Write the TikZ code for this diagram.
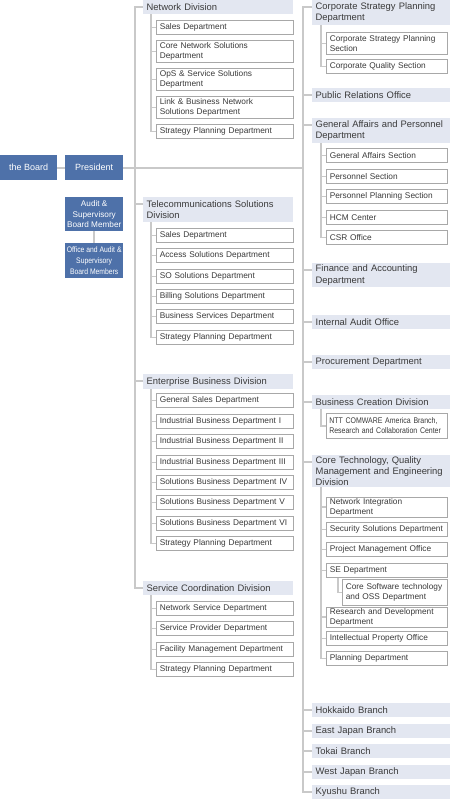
\documentclass[tikz,border=0pt]{standalone}
\usepackage{fontspec}
\setmainfont{Liberation Sans}
\newfontfamily\narrowfont[FakeStretch=0.85]{Liberation Sans}
\hyphenpenalty=10000
\exhyphenpenalty=10000
\definecolor{boardblue}{HTML}{4E71A9}
\definecolor{headfill}{HTML}{E3E7F1}
\definecolor{linegray}{HTML}{C9C9C9}
\definecolor{deptline}{HTML}{A8A8A8}
\definecolor{textgray}{HTML}{3A3A3A}
\tikzset{
  link/.style={draw=linegray, line width=2pt},
  sublink/.style={draw=linegray, line width=1.5pt},
  boss/.style={fill=boardblue, text=white, anchor=north west, inner sep=1pt,
    align=center, font=\fontsize{9}{11}\selectfont},
  head/.style={fill=headfill, text=textgray, anchor=north west, inner xsep=3.5pt,
    inner ysep=1pt, align=left, font=\fontsize{9.4}{11.3}\selectfont},
  dept/.style={draw=deptline, line width=0.6pt, fill=white, text=textgray,
    anchor=north west, inner xsep=3.5pt, inner ysep=1pt, align=left,
    minimum height=14pt, font=\fontsize{8.3}{10}\selectfont},
  lhead/.style={text width=143pt},
  ldept/.style={text width=130pt},
  rhead/.style={text width=131pt},
  rdept/.style={text width=114pt}
}

\begin{document}
\begin{tikzpicture}[x=1pt,y=-1pt]
  \useasboundingbox (0,0) rectangle (450,800);

  % top of the company
  \node[boss,minimum width=57pt,minimum height=25pt] (board) at (0,155) {the Board};
  \node[boss,minimum width=58pt,minimum height=25pt] (pres) at (65,155) {President};
  \node[boss,minimum width=58pt,minimum height=34pt,font=\fontsize{8.2}{10.5}\selectfont] (aud) at (65,197) {Audit \&\\Supervisory\\Board Member};
  \node[boss,minimum width=58pt,minimum height=35pt,font=\narrowfont\fontsize{8}{10.7}\selectfont] (off) at (65,243) {Office and Audit \&\\Supervisory\\Board Members};
  \coordinate (rtrunk) at (303,0);

  % left column
  \node[head,lhead,minimum height=14pt] (nd) at (143,0) {Network Division};
  \node[dept,ldept] (nd1) at (156,20) {Sales Department};
  \node[dept,ldept,minimum height=22pt] (nd2) at (156,40) {Core Network Solutions\\Department};
  \node[dept,ldept,minimum height=22pt] (nd3) at (156,68) {OpS \& Service Solutions\\Department};
  \node[dept,ldept,minimum height=22pt] (nd4) at (156,96) {Link \& Business Network\\Solutions Department};
  \node[dept,ldept] (nd5) at (156,124) {Strategy Planning Department};

  \node[head,lhead,minimum height=25pt] (tsd) at (143,197) {Telecommunications Solutions\\Division};
  \node[dept,ldept] (ts1) at (156,228) {Sales Department};
  \node[dept,ldept] (ts2) at (156,248) {Access Solutions Department};
  \node[dept,ldept] (ts3) at (156,269) {SO Solutions Department};
  \node[dept,ldept] (ts4) at (156,289) {Billing Solutions Department};
  \node[dept,ldept] (ts5) at (156,309) {Business Services Department};
  \node[dept,ldept] (ts6) at (156,330) {Strategy Planning Department};

  \node[head,lhead,minimum height=15pt] (ebd) at (143,374) {Enterprise Business Division};
  \node[dept,ldept] (eb1) at (156,393) {General Sales Department};
  \node[dept,ldept] (eb2) at (156,414) {Industrial Business Department I};
  \node[dept,ldept] (eb3) at (156,434) {Industrial Business Department II};
  \node[dept,ldept] (eb4) at (156,455) {Industrial Business Department III};
  \node[dept,ldept] (eb5) at (156,475) {Solutions Business Department IV};
  \node[dept,ldept] (eb6) at (156,495) {Solutions Business Department V};
  \node[dept,ldept] (eb7) at (156,516) {Solutions Business Department VI};
  \node[dept,ldept] (eb8) at (156,536) {Strategy Planning Department};

  \node[head,lhead,minimum height=14pt] (scd) at (143,581) {Service Coordination Division};
  \node[dept,ldept] (sc1) at (156,601) {Network Service Department};
  \node[dept,ldept] (sc2) at (156,621) {Service Provider Department};
  \node[dept,ldept] (sc3) at (156,642) {Facility Management Department};
  \node[dept,ldept] (sc4) at (156,662) {Strategy Planning Department};

  % right column
  \node[head,rhead,minimum height=25pt] (csp) at (312,0) {Corporate Strategy Planning\\Department};
  \node[dept,rdept,minimum height=22pt] (cs1) at (326,32) {Corporate Strategy Planning\\Section};
  \node[dept,rdept] (cs2) at (326,59) {Corporate Quality Section};
  \node[head,rhead,minimum height=14pt] (pro) at (312,88) {Public Relations Office};
  \node[head,rhead,minimum height=25pt] (gap) at (312,118) {General Affairs and Personnel\\Department};
  \node[dept,rdept] (ga1) at (326,148) {General Affairs Section};
  \node[dept,rdept] (ga2) at (326,169) {Personnel Section};
  \node[dept,rdept] (ga3) at (326,189) {Personnel Planning Section};
  \node[dept,rdept] (ga4) at (326,210) {HCM Center};
  \node[dept,rdept] (ga5) at (326,230) {CSR Office};
  \node[head,rhead,minimum height=24pt] (fad) at (312,263) {Finance and Accounting\\Department};
  \node[head,rhead,minimum height=14pt] (iao) at (312,315) {Internal Audit Office};
  \node[head,rhead,minimum height=14pt] (prd) at (312,355) {Procurement Department};
  \node[head,rhead,minimum height=14pt] (bcd) at (312,395) {Business Creation Division};
  \node[dept,rdept,minimum height=25pt,inner xsep=3pt,text width=115pt,font=\narrowfont\fontsize{8.2}{10}\selectfont] (bc1) at (326,413) {NTT COMWARE America Branch,\\Research and Collaboration Center};
  \node[head,rhead,minimum height=32pt] (ctq) at (312,455) {Core Technology, Quality\\Management and Engineering\\Division};
  \node[dept,rdept,minimum height=19pt] (ct1) at (326,497) {Network Integration\\Department};
  \node[dept,rdept] (ct2) at (326,522) {Security Solutions Department};
  \node[dept,rdept] (ct3) at (326,542) {Project Management Office};
  \node[dept,rdept] (ct4) at (326,563) {SE Department};
  \node[dept,minimum height=26pt,text width=98pt] (ct5) at (342,579) {Core Software technology\\and OSS Department};
  \node[dept,rdept,minimum height=19pt] (ct6) at (326,607) {Research and Development\\Department};
  \node[dept,rdept] (ct7) at (326,631) {Intellectual Property Office};
  \node[dept,rdept] (ct8) at (326,651) {Planning Department};
  \node[head,rhead,minimum height=14pt] (hok) at (312,703) {Hokkaido Branch};
  \node[head,rhead,minimum height=14pt] (eja) at (312,724) {East Japan Branch};
  \node[head,rhead,minimum height=14pt] (tok) at (312,744) {Tokai Branch};
  \node[head,rhead,minimum height=14pt] (wja) at (312,765) {West Japan Branch};
  \node[head,rhead,minimum height=14pt] (kyu) at (312,785) {Kyushu Branch};

  % trunk lines
  \draw[link] (board) -- (pres);
  \draw[link] (aud) -- (off);
  \draw[link] (pres.east) -- (pres.east -| rtrunk);
  \draw[link] ([yshift=-7pt]nd.north west) -- ++(-8,0) |- ([yshift=-7pt]scd.north west);
  \foreach \h in {tsd,ebd}
    \draw[link] ([yshift=-7pt]\h.north west) -- ++(-8,0);
  \draw[link] ([yshift=-7pt]csp.north west) -- ++(-9,0) |- ([yshift=-7pt]kyu.north west);
  \foreach \h in {pro,gap,fad,iao,prd,bcd,ctq,hok,eja,tok,wja}
    \draw[link] ([yshift=-7pt]\h.north west) -- ++(-9,0);

  % branches to the departments
  \foreach \d in {nd1,nd2,nd3,nd4,nd5}
    \draw[sublink] ([xshift=8pt]nd.south west) |- (\d.west);
  \foreach \d in {ts1,ts2,ts3,ts4,ts5,ts6}
    \draw[sublink] ([xshift=8pt]tsd.south west) |- (\d.west);
  \foreach \d in {eb1,eb2,eb3,eb4,eb5,eb6,eb7,eb8}
    \draw[sublink] ([xshift=8pt]ebd.south west) |- (\d.west);
  \foreach \d in {sc1,sc2,sc3,sc4}
    \draw[sublink] ([xshift=8pt]scd.south west) |- (\d.west);
  \foreach \d in {cs1,cs2}
    \draw[sublink] ([xshift=9pt]csp.south west) |- (\d.west);
  \foreach \d in {ga1,ga2,ga3,ga4,ga5}
    \draw[sublink] ([xshift=9pt]gap.south west) |- (\d.west);
  \draw[sublink] ([xshift=9pt]bcd.south west) |- (bc1.west);
  \foreach \d in {ct1,ct2,ct3,ct4,ct6,ct7,ct8}
    \draw[sublink] ([xshift=9pt]ctq.south west) |- (\d.west);
  \draw[sublink] ([xshift=12pt]ct4.south west) |- (ct5.west);
\end{tikzpicture}
\end{document}
